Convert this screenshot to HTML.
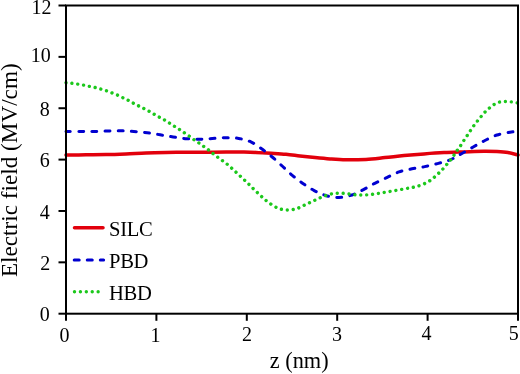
<!DOCTYPE html>
<html><head><meta charset="utf-8"><title>Electric field vs z</title>
<style>
html,body{margin:0;padding:0;background:#fff;}
body{width:520px;height:374px;overflow:hidden;}
svg{display:block;}
</style></head>
<body>
<svg width="520" height="374" viewBox="0 0 520 374">
<g font-family="'Liberation Serif', 'Times New Roman', serif" fill="#000">
<text x="49.80" y="321.10" text-anchor="end" font-size="20">0</text>
<text x="50.20" y="270.13" text-anchor="end" font-size="20">2</text>
<text x="49.70" y="218.67" text-anchor="end" font-size="20">4</text>
<text x="49.80" y="166.50" text-anchor="end" font-size="20">6</text>
<text x="49.70" y="115.88" text-anchor="end" font-size="20">8</text>
<text x="50.80" y="62.37" text-anchor="end" font-size="20">10</text>
<text x="51.50" y="14.20" text-anchor="end" font-size="20">12</text>
<text x="64.40" y="341.90" text-anchor="middle" font-size="20">0</text>
<text x="155.40" y="342.00" text-anchor="middle" font-size="20">1</text>
<text x="247.10" y="340.90" text-anchor="middle" font-size="20">2</text>
<text x="336.90" y="341.10" text-anchor="middle" font-size="20">3</text>
<text x="426.40" y="340.30" text-anchor="middle" font-size="20">4</text>
<text x="513.80" y="339.90" text-anchor="middle" font-size="20">5</text>
<text x="299.2" y="367.9" text-anchor="middle" font-size="22.3">z (nm)</text>
<text transform="translate(16.7 170.2) rotate(-90)" text-anchor="middle" font-size="23.2">Electric field (MV/cm)</text>
<text x="109" y="235.5" font-size="20.6" letter-spacing="-0.3">SILC</text>
<text x="109" y="267.5" font-size="20.6" letter-spacing="-0.3">PBD</text>
<text x="109" y="299.5" font-size="20.6" letter-spacing="-0.3">HBD</text>
</g>
<g>
<path d="M66.00 155.00 C69.33 154.97 79.33 154.87 86.00 154.80 C92.67 154.73 99.33 154.75 106.00 154.60 C112.67 154.45 119.33 154.18 126.00 153.90 C132.67 153.62 139.33 153.15 146.00 152.90 C152.67 152.65 159.33 152.52 166.00 152.40 C172.67 152.28 179.33 152.24 186.00 152.20 C192.67 152.16 199.33 152.17 206.00 152.15 C212.67 152.13 219.67 152.11 226.00 152.10 C232.33 152.09 239.00 152.05 244.00 152.10 C249.00 152.15 251.50 152.22 256.00 152.40 C260.50 152.58 266.00 152.90 271.00 153.20 C276.00 153.50 281.17 153.75 286.00 154.20 C290.83 154.65 295.17 155.33 300.00 155.90 C304.83 156.47 310.00 157.08 315.00 157.60 C320.00 158.12 324.83 158.62 330.00 159.00 C335.17 159.38 340.00 159.78 346.00 159.85 C352.00 159.92 359.50 159.78 366.00 159.40 C372.50 159.03 378.67 158.23 385.00 157.60 C391.33 156.97 397.50 156.22 404.00 155.60 C410.50 154.98 417.33 154.40 424.00 153.90 C430.67 153.40 437.33 152.93 444.00 152.60 C450.67 152.27 457.33 152.12 464.00 151.90 C470.67 151.68 478.50 151.35 484.00 151.30 C489.50 151.25 493.00 151.38 497.00 151.60 C501.00 151.82 504.50 152.03 508.00 152.60 C511.50 153.17 516.33 154.60 518.00 155.00" fill="none" stroke="#e2000c" stroke-width="3.5" stroke-linecap="round" stroke-linejoin="round"/>
<path d="M66.00 131.60 C68.53 131.60 76.50 131.62 81.20 131.60 C85.90 131.58 89.78 131.60 94.20 131.50 C98.62 131.40 103.27 131.12 107.70 131.00 C112.13 130.88 116.45 130.72 120.80 130.80 C125.15 130.88 129.38 131.17 133.80 131.50 C138.22 131.83 142.90 132.25 147.30 132.80 C151.70 133.35 155.88 134.12 160.20 134.80 C164.52 135.48 168.82 136.25 173.20 136.90 C177.58 137.55 182.10 138.32 186.50 138.70 C190.90 139.08 195.30 139.23 199.60 139.20 C203.90 139.17 207.98 138.75 212.30 138.50 C216.62 138.25 221.10 137.72 225.50 137.70 C229.90 137.68 234.47 137.70 238.70 138.40 C242.93 139.10 247.08 140.17 250.90 141.90 C254.72 143.63 258.05 146.28 261.60 148.80 C265.15 151.32 268.77 154.13 272.20 157.00 C275.63 159.87 278.90 162.98 282.20 166.00 C285.50 169.02 288.62 172.23 292.00 175.10 C295.38 177.97 298.87 180.67 302.50 183.20 C306.13 185.73 309.93 188.25 313.80 190.30 C317.67 192.35 321.50 194.30 325.70 195.50 C329.90 196.70 334.62 197.58 339.00 197.50 C343.38 197.42 347.92 196.32 352.00 195.00 C356.08 193.68 359.70 191.55 363.50 189.60 C367.30 187.65 370.92 185.30 374.80 183.30 C378.68 181.30 382.77 179.50 386.80 177.60 C390.83 175.70 394.80 173.37 399.00 171.90 C403.20 170.43 407.72 169.68 412.00 168.80 C416.28 167.92 420.45 167.47 424.70 166.60 C428.95 165.73 433.25 164.73 437.50 163.60 C441.75 162.47 446.20 161.45 450.20 159.80 C454.20 158.15 457.67 155.83 461.50 153.70 C465.33 151.57 469.30 149.20 473.20 147.00 C477.10 144.80 480.93 142.50 484.90 140.50 C488.87 138.50 492.82 136.38 497.00 135.00 C501.18 133.62 506.50 132.80 510.00 132.20 C513.50 131.60 516.67 131.53 518.00 131.40" fill="none" stroke="#0000d0" stroke-width="3.0" stroke-dasharray="4.9 8.3" stroke-dashoffset="0.55" stroke-linecap="round" stroke-linejoin="round"/>
<path d="M66.00 82.70 C66.97 82.80 69.88 83.07 71.80 83.30 C73.72 83.53 75.55 83.80 77.50 84.10 C79.45 84.40 81.50 84.72 83.50 85.10 C85.50 85.48 87.57 86.00 89.50 86.40 C91.43 86.80 93.22 87.05 95.10 87.50 C96.98 87.95 98.95 88.57 100.80 89.10 C102.65 89.63 104.40 90.08 106.20 90.70 C108.00 91.32 109.73 92.07 111.60 92.80 C113.47 93.53 115.55 94.30 117.40 95.10 C119.25 95.90 120.93 96.75 122.70 97.60 C124.47 98.45 126.25 99.28 128.00 100.20 C129.75 101.12 131.47 102.17 133.20 103.10 C134.93 104.03 136.65 104.90 138.40 105.80 C140.15 106.70 141.93 107.60 143.70 108.50 C145.47 109.40 147.27 110.25 149.00 111.20 C150.73 112.15 152.37 113.20 154.10 114.20 C155.83 115.20 157.63 116.22 159.40 117.20 C161.17 118.18 163.00 119.10 164.70 120.10 C166.40 121.10 167.95 122.15 169.60 123.20 C171.25 124.25 172.92 125.33 174.60 126.40 C176.28 127.47 178.02 128.50 179.70 129.60 C181.38 130.70 183.05 131.87 184.70 133.00 C186.35 134.13 187.98 135.23 189.60 136.40 C191.22 137.57 192.77 138.85 194.40 140.00 C196.03 141.15 197.73 142.13 199.40 143.30 C201.07 144.47 202.77 145.80 204.40 147.00 C206.03 148.20 207.60 149.27 209.20 150.50 C210.80 151.73 212.43 153.17 214.00 154.40 C215.57 155.63 217.03 156.73 218.60 157.90 C220.17 159.07 221.80 160.20 223.40 161.40 C225.00 162.60 226.65 163.82 228.20 165.10 C229.75 166.38 231.23 167.77 232.70 169.10 C234.17 170.43 235.57 171.77 237.00 173.10 C238.43 174.43 239.87 175.77 241.30 177.10 C242.73 178.43 244.18 179.75 245.60 181.10 C247.02 182.45 248.40 183.82 249.80 185.20 C251.20 186.58 252.57 188.00 254.00 189.40 C255.43 190.80 256.88 192.18 258.40 193.60 C259.92 195.02 261.55 196.53 263.10 197.90 C264.65 199.27 266.00 200.50 267.70 201.80 C269.40 203.10 271.47 204.60 273.30 205.70 C275.13 206.80 276.83 207.72 278.70 208.40 C280.57 209.08 282.53 209.57 284.50 209.80 C286.47 210.03 288.55 209.95 290.50 209.80 C292.45 209.65 294.37 209.43 296.20 208.90 C298.03 208.37 299.72 207.42 301.50 206.60 C303.28 205.78 305.13 204.85 306.90 204.00 C308.67 203.15 310.33 202.33 312.10 201.50 C313.87 200.67 315.72 199.80 317.50 199.00 C319.28 198.20 320.88 197.45 322.80 196.70 C324.72 195.95 327.00 195.05 329.00 194.50 C331.00 193.95 332.83 193.62 334.80 193.40 C336.77 193.18 338.85 193.12 340.80 193.15 C342.75 193.18 344.52 193.38 346.50 193.60 C348.48 193.82 350.70 194.27 352.70 194.50 C354.70 194.73 356.53 194.92 358.50 195.00 C360.47 195.08 362.52 195.08 364.50 195.00 C366.48 194.92 368.43 194.71 370.40 194.50 C372.37 194.29 374.37 194.03 376.30 193.75 C378.23 193.47 380.07 193.12 382.00 192.80 C383.93 192.48 385.95 192.13 387.90 191.80 C389.85 191.47 391.77 191.13 393.70 190.80 C395.63 190.47 397.55 190.15 399.50 189.80 C401.45 189.45 403.45 189.05 405.40 188.70 C407.35 188.35 409.40 188.05 411.20 187.70 C413.00 187.35 414.30 187.13 416.20 186.60 C418.10 186.07 420.62 185.30 422.60 184.50 C424.58 183.70 426.42 182.78 428.10 181.80 C429.78 180.82 431.20 179.80 432.70 178.60 C434.20 177.40 435.67 175.91 437.10 174.60 C438.53 173.29 439.92 172.18 441.30 170.75 C442.68 169.32 444.03 167.57 445.40 166.00 C446.77 164.43 448.18 162.93 449.50 161.30 C450.82 159.67 452.05 157.98 453.30 156.20 C454.55 154.42 455.85 152.27 457.00 150.60 C458.15 148.93 459.12 147.80 460.20 146.20 C461.28 144.60 462.38 142.70 463.50 141.00 C464.62 139.30 465.80 137.65 466.90 136.00 C468.00 134.35 469.00 132.75 470.10 131.10 C471.20 129.45 472.32 127.73 473.50 126.10 C474.68 124.47 475.98 122.83 477.20 121.30 C478.42 119.77 479.55 118.38 480.80 116.90 C482.05 115.42 483.30 113.85 484.70 112.40 C486.10 110.95 487.57 109.57 489.20 108.20 C490.83 106.83 492.72 105.23 494.50 104.20 C496.28 103.17 498.03 102.45 499.90 102.00 C501.77 101.55 503.73 101.52 505.70 101.50 C507.67 101.48 509.82 101.67 511.70 101.90 C513.58 102.13 515.95 102.70 517.00 102.90 C518.05 103.10 517.83 103.07 518.00 103.10" fill="none" stroke="#1cc81c" stroke-width="3.4" stroke-dasharray="0.01 5.9" stroke-linecap="round" stroke-linejoin="round"/>
</g>
<line x1="74.5" y1="227.8" x2="103" y2="227.8" stroke="#e2000c" stroke-width="3.5" stroke-linecap="round"/>
<line x1="74.2" y1="259.9" x2="103.6" y2="259.9" stroke="#0000d0" stroke-width="3.0" stroke-dasharray="5.0 8.05" stroke-linecap="round"/>
<line x1="74.5" y1="291.7" x2="101" y2="291.7" stroke="#1cc81c" stroke-width="3.4" stroke-dasharray="0.01 5.9" stroke-linecap="round"/>
<g>
<rect x="66.0" y="5.5" width="452.0" height="308.2" fill="none" stroke="#000" stroke-width="2"/>
<line x1="58.5" y1="313.70" x2="66.0" y2="313.70" stroke="#000" stroke-width="2"/>
<line x1="58.5" y1="262.33" x2="66.0" y2="262.33" stroke="#000" stroke-width="2"/>
<line x1="58.5" y1="210.97" x2="66.0" y2="210.97" stroke="#000" stroke-width="2"/>
<line x1="58.5" y1="159.60" x2="66.0" y2="159.60" stroke="#000" stroke-width="2"/>
<line x1="58.5" y1="108.23" x2="66.0" y2="108.23" stroke="#000" stroke-width="2"/>
<line x1="58.5" y1="56.87" x2="66.0" y2="56.87" stroke="#000" stroke-width="2"/>
<line x1="58.5" y1="5.50" x2="66.0" y2="5.50" stroke="#000" stroke-width="2"/>
<line x1="66.00" y1="313.7" x2="66.00" y2="320.8" stroke="#000" stroke-width="2"/>
<line x1="156.40" y1="313.7" x2="156.40" y2="320.8" stroke="#000" stroke-width="2"/>
<line x1="246.80" y1="313.7" x2="246.80" y2="320.8" stroke="#000" stroke-width="2"/>
<line x1="337.20" y1="313.7" x2="337.20" y2="320.8" stroke="#000" stroke-width="2"/>
<line x1="427.60" y1="313.7" x2="427.60" y2="320.8" stroke="#000" stroke-width="2"/>
<line x1="518.00" y1="313.7" x2="518.00" y2="320.8" stroke="#000" stroke-width="2"/>
</g>
</svg>
</body></html>
